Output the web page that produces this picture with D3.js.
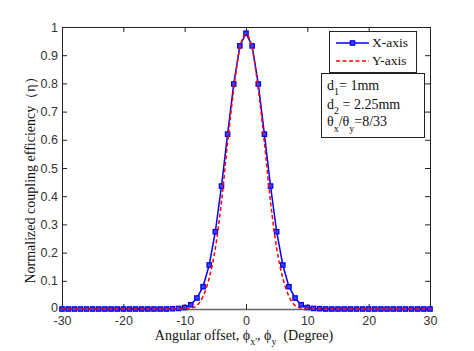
<!DOCTYPE html>
<html><head><meta charset="utf-8">
<script src="https://cdn.jsdelivr.net/npm/d3@7"></script>
<style>body{margin:0;background:#fff}svg{display:block}</style>
</head><body>
<script>
const angles = [-30,-29,-28,-27,-26,-25,-24,-23,-22,-21,-20,-19,-18,-17,-16,-15,-14,-13,-12,-11,-10,-9,-8,-7,-6,-5,-4,-3,-2,-1,0,1,2,3,4,5,6,7,8,9,10,11,12,13,14,15,16,17,18,19,20,21,22,23,24,25,26,27,28,29,30];
const xAxisEff = [0,0,0,0,0,0,0,0,0,0,0,0,0,0,0,0,0,0,0.001,0.002,0.005,0.015,0.039,0.079,0.156,0.274,0.436,0.62,0.798,0.933,0.978,0.933,0.798,0.62,0.436,0.274,0.156,0.079,0.039,0.015,0.005,0.002,0.001,0,0,0,0,0,0,0,0,0,0,0,0,0,0,0,0,0,0];
const yAxisEff = [0,0,0,0,0,0,0,0,0,0,0,0,0,0,0,0,0,0,0,0,0,0.003,0.012,0.045,0.11,0.215,0.38,0.59,0.78,0.925,0.975,0.925,0.78,0.59,0.38,0.215,0.11,0.045,0.012,0.003,0,0,0,0,0,0,0,0,0,0,0,0,0,0,0,0,0,0,0,0,0];
const xTicks = [-30,-20,-10,0,10,20,30];
const yTicks = [0,0.1,0.2,0.3,0.4,0.5,0.6,0.7,0.8,0.9,1];
const seriesNames = ["X-axis","Y-axis"];

const W=474,H=351;
const svg=d3.select("body").append("svg").attr("width",W).attr("height",H);
const x=d3.scaleLinear().domain([-30,30]).range([62,430]);
const y=d3.scaleLinear().domain([0,1]).range([309,27]);
const serif="'Liberation Serif','Times New Roman',serif";
const sans="'Liberation Sans',Arial,sans-serif";

// axes
const fmt=d=>d===0?"0":d===1?"1":String(d);
const bx=svg.append("g").attr("transform","translate(0,309)")
  .call(d3.axisBottom(x).tickValues(xTicks).tickSize(-5).tickPadding(7).tickFormat(d=>String(d)));
const lx=svg.append("g").attr("transform","translate(62,0)")
  .call(d3.axisLeft(y).tickValues(yTicks).tickSize(-5).tickPadding(4).tickFormat(fmt));
const tx=svg.append("g").attr("transform","translate(0,27)")
  .call(d3.axisTop(x).tickValues(xTicks).tickSize(-5).tickFormat(""));
const rx=svg.append("g").attr("transform","translate(430,0)")
  .call(d3.axisRight(y).tickValues(yTicks).tickSize(-5).tickFormat(""));
[bx,lx,tx,rx].forEach(g=>{
  g.select(".domain").attr("stroke","#222").attr("stroke-width",1);
  g.selectAll(".tick line").attr("stroke","#222");
  g.selectAll("text").attr("font-family",sans).attr("font-size",12.5).attr("fill","#333");
});
bx.select(".domain").attr("stroke","#666").attr("stroke-width",1.3);
lx.selectAll(".tick").filter(d=>d===0).select("text").attr("dy","0.2em");

const pts=(arr)=>angles.map((a,i)=>[a,arr[i]]);
const line=d3.line().x(d=>x(d[0])).y(d=>y(d[1]));

// blue X-axis
svg.append("path").attr("d",line(pts(xAxisEff))).attr("fill","none").attr("stroke","#0000ff").attr("stroke-width",1.5);
svg.append("g").selectAll("rect").data(pts(xAxisEff)).join("rect")
  .attr("x",d=>x(d[0])-2.2).attr("y",d=>y(d[1])-2.2).attr("width",4.4).attr("height",4.4)
  .attr("fill","#4040ff").attr("stroke","#0000ee").attr("stroke-width",1.2);
// red Y-axis dashed
svg.append("path").attr("d",line.curve(d3.curveMonotoneX)(pts(yAxisEff))).attr("fill","none").attr("stroke","#ff0000").attr("stroke-width",1.5).attr("stroke-dasharray","4,2.5");

// legend
const lg=svg.append("g");
lg.append("rect").attr("x",329.5).attr("y",31.5).attr("width",87).attr("height",41).attr("fill","#fff").attr("stroke","#222");
lg.append("line").attr("x1",336).attr("x2",369).attr("y1",43).attr("y2",43).attr("stroke","#0000ff").attr("stroke-width",1.5);
lg.append("rect").attr("x",350.3).attr("y",40.8).attr("width",4.4).attr("height",4.4).attr("fill","#4040ff").attr("stroke","#0000ee").attr("stroke-width",1.2);
lg.append("line").attr("x1",336).attr("x2",369).attr("y1",61).attr("y2",61).attr("stroke","#ff0000").attr("stroke-width",1.5).attr("stroke-dasharray","4,2.5");
lg.selectAll("text.n").data(seriesNames).join("text").attr("class","n")
  .attr("x",372).attr("y",(d,i)=>47+i*18).text(d=>d)
  .attr("font-family",serif).attr("font-size",13.5).attr("fill","#111");

// annotation box
const ab=svg.append("g");
ab.append("rect").attr("x",321.5).attr("y",73.5).attr("width",103).attr("height",64).attr("fill","#fff").attr("stroke","#222");
const at=(yy)=>ab.append("text").attr("x",327).attr("y",yy).attr("font-family",serif).attr("font-size",14).attr("fill","#111");
let t=at(90); t.append("tspan").text("d"); t.append("tspan").attr("dy",5).attr("font-size",10).text("1"); t.append("tspan").attr("dy",-5).text("= 1mm");
t=at(109); t.append("tspan").text("d"); t.append("tspan").attr("dy",5).attr("font-size",10).text("2"); t.append("tspan").attr("dy",-5).text(" = 2.25mm");
t=at(126); t.append("tspan").text("θ"); t.append("tspan").attr("dy",6).attr("font-size",10).text("x"); t.append("tspan").attr("dy",-6).text("/θ"); t.append("tspan").attr("dy",6).attr("font-size",10).text("y"); t.append("tspan").attr("dy",-6).text("=8/33");

// axis titles
const xt=svg.append("text").attr("x",244).attr("y",340).attr("text-anchor","middle").attr("font-family",serif).attr("font-size",14).attr("fill","#111");
xt.append("tspan").text("Angular offset, ϕ");
xt.append("tspan").attr("dy",5).attr("font-size",10).text("x'");
xt.append("tspan").attr("dy",-5).text(", ϕ");
xt.append("tspan").attr("dy",5).attr("font-size",10).text("y");
xt.append("tspan").attr("dy",-5).text("\u00a0\u00a0(Degree)");
svg.append("text").attr("transform","translate(35,177) rotate(-90)").attr("text-anchor","middle")
  .attr("font-family",serif).attr("font-size",14).attr("fill","#111").text("Normalized coupling efficiency（η）");
</script>
</body></html>
